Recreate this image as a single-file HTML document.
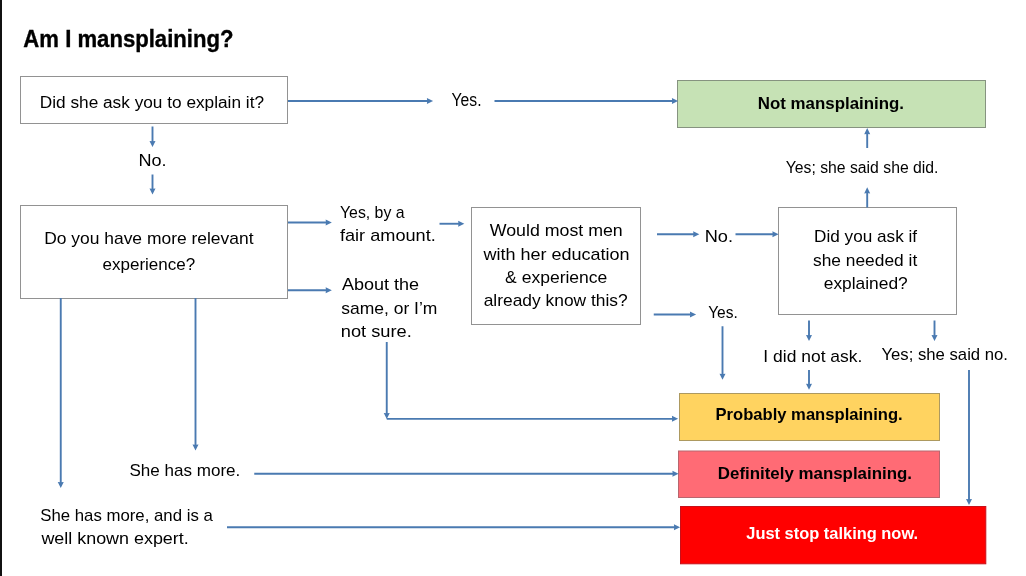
<!DOCTYPE html>
<html lang="en"><head><meta charset="utf-8"><title>Am I mansplaining?</title>
<style>
html,body{margin:0;padding:0;background:#fff;}
body{width:1026px;height:576px;overflow:hidden;}
svg{display:block;will-change:transform;}
text{font-family:"Liberation Sans",sans-serif;}
#t0{stroke:#000;stroke-width:0.35px;}
.b{font-weight:bold;}
.ln{stroke:#4a7ab1;stroke-width:1.9;fill:none;}
.hd{fill:#4a7ab1;stroke:none;}
</style></head>
<body>
<svg width="1026" height="576" viewBox="0 0 1026 576">
<rect x="0" y="0" width="1026" height="576" fill="#fff"/>
<rect x="0" y="0" width="2" height="576" fill="#111"/>
<rect x="20.50" y="76.50" width="267.00" height="47.00" fill="#fff" stroke="#929292" stroke-width="1"/>
<rect x="20.50" y="205.50" width="267.00" height="93.00" fill="#fff" stroke="#929292" stroke-width="1"/>
<rect x="471.50" y="207.50" width="169.00" height="117.00" fill="#fff" stroke="#929292" stroke-width="1"/>
<rect x="778.50" y="207.50" width="178.00" height="107.00" fill="#fff" stroke="#929292" stroke-width="1"/>
<rect x="677.50" y="80.50" width="308.00" height="47.00" fill="#c6e2b5" stroke="#869380" stroke-width="1"/>
<rect x="679.50" y="393.50" width="260.00" height="47.00" fill="#ffd360" stroke="#ad9960" stroke-width="1"/>
<rect x="678.50" y="451.00" width="261.00" height="46.50" fill="#ff6b75" stroke="#b8666e" stroke-width="1"/>
<rect x="680.50" y="506.50" width="305.30" height="57.30" fill="#ff0000" stroke="#c8101a" stroke-width="1"/>
<line class="ln" x1="288.00" y1="101.00" x2="429.38" y2="101.00"/><polygon class="hd" points="433.10,101.00 426.90,104.00 427.21,101.00 426.90,98.00"/>
<line class="ln" x1="494.50" y1="101.00" x2="674.38" y2="101.00"/><polygon class="hd" points="678.10,101.00 671.90,104.00 672.21,101.00 671.90,98.00"/>
<line class="ln" x1="152.50" y1="126.50" x2="152.50" y2="143.38"/><polygon class="hd" points="152.50,147.10 149.50,140.90 152.50,141.21 155.50,140.90"/>
<line class="ln" x1="152.50" y1="174.50" x2="152.50" y2="190.88"/><polygon class="hd" points="152.50,194.60 149.50,188.40 152.50,188.71 155.50,188.40"/>
<line class="ln" x1="867.20" y1="148.00" x2="867.20" y2="131.72"/><polygon class="hd" points="867.20,128.00 870.20,134.20 867.20,133.89 864.20,134.20"/>
<line class="ln" x1="867.20" y1="207.50" x2="867.20" y2="190.92"/><polygon class="hd" points="867.20,187.20 870.20,193.40 867.20,193.09 864.20,193.40"/>
<line class="ln" x1="288.00" y1="222.50" x2="328.13" y2="222.50"/><polygon class="hd" points="331.85,222.50 325.65,225.50 325.96,222.50 325.65,219.50"/>
<line class="ln" x1="288.00" y1="290.25" x2="328.13" y2="290.25"/><polygon class="hd" points="331.85,290.25 325.65,293.25 325.96,290.25 325.65,287.25"/>
<line class="ln" x1="439.50" y1="223.75" x2="460.63" y2="223.75"/><polygon class="hd" points="464.35,223.75 458.15,226.75 458.46,223.75 458.15,220.75"/>
<line class="ln" x1="657.00" y1="234.25" x2="695.63" y2="234.25"/><polygon class="hd" points="699.35,234.25 693.15,237.25 693.46,234.25 693.15,231.25"/>
<line class="ln" x1="735.50" y1="234.25" x2="774.88" y2="234.25"/><polygon class="hd" points="778.60,234.25 772.40,237.25 772.71,234.25 772.40,231.25"/>
<line class="ln" x1="653.75" y1="314.50" x2="692.38" y2="314.50"/><polygon class="hd" points="696.10,314.50 689.90,317.50 690.21,314.50 689.90,311.50"/>
<line class="ln" x1="722.50" y1="326.25" x2="722.50" y2="376.13"/><polygon class="hd" points="722.50,379.85 719.50,373.65 722.50,373.96 725.50,373.65"/>
<line class="ln" x1="809.00" y1="320.50" x2="809.00" y2="337.38"/><polygon class="hd" points="809.00,341.10 806.00,334.90 809.00,335.21 812.00,334.90"/>
<line class="ln" x1="809.00" y1="370.00" x2="809.00" y2="386.13"/><polygon class="hd" points="809.00,389.85 806.00,383.65 809.00,383.96 812.00,383.65"/>
<line class="ln" x1="934.50" y1="320.50" x2="934.50" y2="337.38"/><polygon class="hd" points="934.50,341.10 931.50,334.90 934.50,335.21 937.50,334.90"/>
<line class="ln" x1="969.00" y1="370.00" x2="969.00" y2="501.38"/><polygon class="hd" points="969.00,505.10 966.00,498.90 969.00,499.21 972.00,498.90"/>
<line class="ln" x1="386.75" y1="342.00" x2="386.75" y2="415.38"/><polygon class="hd" points="386.75,419.10 383.75,412.90 386.75,413.21 389.75,412.90"/>
<line class="ln" x1="386.75" y1="418.85" x2="674.38" y2="418.85"/><polygon class="hd" points="678.10,418.85 671.90,421.85 672.21,418.85 671.90,415.85"/>
<line class="ln" x1="60.75" y1="298.00" x2="60.75" y2="484.38"/><polygon class="hd" points="60.75,488.10 57.75,481.90 60.75,482.21 63.75,481.90"/>
<line class="ln" x1="195.50" y1="298.00" x2="195.50" y2="446.88"/><polygon class="hd" points="195.50,450.60 192.50,444.40 195.50,444.71 198.50,444.40"/>
<line class="ln" x1="254.25" y1="473.80" x2="674.88" y2="473.80"/><polygon class="hd" points="678.60,473.80 672.40,476.80 672.71,473.80 672.40,470.80"/>
<line class="ln" x1="227.00" y1="527.25" x2="676.38" y2="527.25"/><polygon class="hd" points="680.10,527.25 673.90,530.25 674.21,527.25 673.90,524.25"/>
<text id="t0" x="23.35" y="46.90" font-size="23.30" class="b" fill="#000" textLength="210.13" lengthAdjust="spacingAndGlyphs">Am I mansplaining?</text>
<text id="t1" x="39.79" y="108.00" font-size="17.30" fill="#000" textLength="224.25" lengthAdjust="spacingAndGlyphs">Did she ask you to explain it?</text>
<text id="t2" x="451.55" y="106.40" font-size="17.50" fill="#000" textLength="29.98" lengthAdjust="spacingAndGlyphs">Yes.</text>
<text id="t3" x="757.87" y="109.25" font-size="16.90" class="b" fill="#000" textLength="146.09" lengthAdjust="spacingAndGlyphs">Not mansplaining.</text>
<text id="t4" x="138.52" y="166.40" font-size="17.00" fill="#000" textLength="28.13" lengthAdjust="spacingAndGlyphs">No.</text>
<text id="t5" x="785.75" y="173.00" font-size="16.00" fill="#000" textLength="152.68" lengthAdjust="spacingAndGlyphs">Yes; she said she did.</text>
<text id="t6" x="44.17" y="243.50" font-size="17.00" fill="#000" textLength="209.36" lengthAdjust="spacingAndGlyphs">Do you have more relevant</text>
<text id="t7" x="102.48" y="270.40" font-size="17.00" fill="#000" textLength="92.75" lengthAdjust="spacingAndGlyphs">experience?</text>
<text id="t8" x="339.95" y="217.60" font-size="17.00" fill="#000" textLength="64.65" lengthAdjust="spacingAndGlyphs">Yes, by a</text>
<text id="t9" x="339.94" y="241.25" font-size="17.00" fill="#000" textLength="95.81" lengthAdjust="spacingAndGlyphs">fair amount.</text>
<text id="t10" x="341.96" y="289.60" font-size="17.00" fill="#000" textLength="77.14" lengthAdjust="spacingAndGlyphs">About the</text>
<text id="t11" x="341.26" y="313.75" font-size="17.00" fill="#000" textLength="96.19" lengthAdjust="spacingAndGlyphs">same, or I’m</text>
<text id="t12" x="340.79" y="336.60" font-size="17.00" fill="#000" textLength="70.98" lengthAdjust="spacingAndGlyphs">not sure.</text>
<text id="t13" x="489.72" y="236.25" font-size="17.00" fill="#000" textLength="133.03" lengthAdjust="spacingAndGlyphs">Would most men</text>
<text id="t14" x="483.43" y="259.60" font-size="17.00" fill="#000" textLength="146.14" lengthAdjust="spacingAndGlyphs">with her education</text>
<text id="t15" x="505.08" y="283.10" font-size="17.00" fill="#000" textLength="102.29" lengthAdjust="spacingAndGlyphs">&amp; experience</text>
<text id="t16" x="483.66" y="306.40" font-size="17.00" fill="#000" textLength="144.08" lengthAdjust="spacingAndGlyphs">already know this?</text>
<text id="t17" x="704.71" y="241.80" font-size="16.60" fill="#000" textLength="28.36" lengthAdjust="spacingAndGlyphs">No.</text>
<text id="t18" x="708.16" y="317.80" font-size="17.00" fill="#000" textLength="29.66" lengthAdjust="spacingAndGlyphs">Yes.</text>
<text id="t19" x="814.09" y="242.40" font-size="17.00" fill="#000" textLength="102.98" lengthAdjust="spacingAndGlyphs">Did you ask if</text>
<text id="t20" x="813.02" y="265.80" font-size="17.00" fill="#000" textLength="104.21" lengthAdjust="spacingAndGlyphs">she needed it</text>
<text id="t21" x="823.76" y="289.30" font-size="17.00" fill="#000" textLength="83.98" lengthAdjust="spacingAndGlyphs">explained?</text>
<text id="t22" x="763.39" y="361.70" font-size="17.00" fill="#000" textLength="99.01" lengthAdjust="spacingAndGlyphs">I did not ask.</text>
<text id="t23" x="881.38" y="360.30" font-size="17.00" fill="#000" textLength="126.64" lengthAdjust="spacingAndGlyphs">Yes; she said no.</text>
<text id="t24" x="715.49" y="420.30" font-size="16.90" class="b" fill="#000" textLength="187.25" lengthAdjust="spacingAndGlyphs">Probably mansplaining.</text>
<text id="t25" x="717.87" y="479.10" font-size="17.20" class="b" fill="#000" textLength="194.09" lengthAdjust="spacingAndGlyphs">Definitely mansplaining.</text>
<text id="t26" x="746.25" y="538.80" font-size="16.90" class="b" fill="#fff" textLength="171.88" lengthAdjust="spacingAndGlyphs">Just stop talking now.</text>
<text id="t27" x="129.43" y="475.50" font-size="17.00" fill="#000" textLength="110.93" lengthAdjust="spacingAndGlyphs">She has more.</text>
<text id="t28" x="40.24" y="520.50" font-size="17.00" fill="#000" textLength="172.56" lengthAdjust="spacingAndGlyphs">She has more, and is a</text>
<text id="t29" x="41.43" y="544.00" font-size="17.00" fill="#000" textLength="147.31" lengthAdjust="spacingAndGlyphs">well known expert.</text>
</svg>
</body></html>
